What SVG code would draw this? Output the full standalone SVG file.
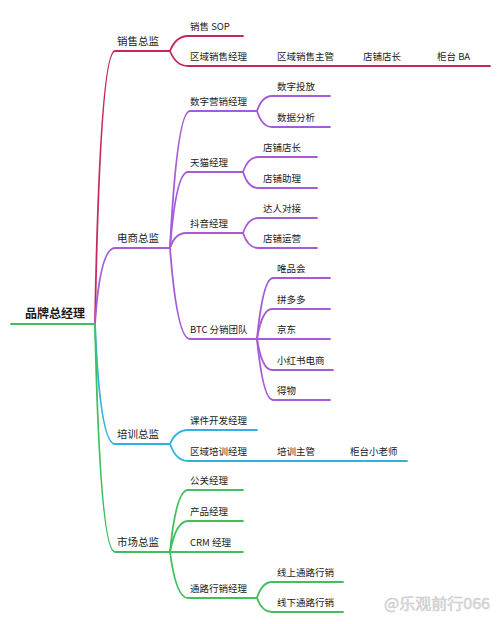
<svg xmlns="http://www.w3.org/2000/svg" width="500" height="624" viewBox="0 0 500 624">
<style>
.c{fill:none;stroke-width:1.8;stroke-linecap:round;stroke-linejoin:round}
.r{stroke:#c4285e}.p{stroke:#a65bd6}.b{stroke:#2fb2e0}.g{stroke:#3fbf5d}
text{font-family:"Noto Sans CJK SC","Noto Sans",sans-serif;fill:#1a1a1a}
.t0{font-size:12px;font-weight:bold}
.t1{font-size:10.5px}
.t2{font-size:9.5px}
.wm{font-size:15px;fill:#e2e2e2;stroke:#c8c8c8;stroke-width:0.5}
</style>
<rect width="500" height="624" fill="#fff"/>
<g id="connectors">
<path class="c g" d="M11,324 H95"/>
<path class="c r" d="M95,324 Q100,51 115,51 H170"/>
<path class="c p" d="M95,324 Q100,248 115,248 H170"/>
<path class="c b" d="M95,324 Q100,444 115,444 H170"/>
<path class="c g" d="M95,324 Q100,552 115,552 H170"/>
<path class="c r" d="M170,51 Q176,36 188,36 H243"/>
<path class="c r" d="M170,51 Q176,66 188,66 H490"/>
<path class="c p" d="M170,248 Q177,111 190,111 H257"/>
<path class="c p" d="M257,111 Q262,96 272,96 H330"/>
<path class="c p" d="M257,111 Q262,127 272,127 H330"/>
<path class="c p" d="M170,248 Q176,172 188,172 H243"/>
<path class="c p" d="M243,172 Q248,157 258,157 H317"/>
<path class="c p" d="M243,172 Q248,188 258,188 H317"/>
<path class="c p" d="M170,248 Q175,233 186,233 H243"/>
<path class="c p" d="M243,233 Q248,218 258,218 H317"/>
<path class="c p" d="M243,233 Q248,248 258,248 H317"/>
<path class="c p" d="M170,248 Q177,339 190,339 H257"/>
<path class="c p" d="M257,339 Q263,278 273,278 H330"/>
<path class="c p" d="M257,339 Q262,309 272,309 H330"/>
<path class="c p" d="M257,339 H330"/>
<path class="c p" d="M257,339 Q262,370 272,370 H333"/>
<path class="c p" d="M257,339 Q263,400 273,400 H330"/>
<path class="c b" d="M170,444 Q176,430 188,430 H257"/>
<path class="c b" d="M170,444 Q176,461 188,461 H407"/>
<path class="c g" d="M170,552 Q176,490 188,490 H243"/>
<path class="c g" d="M170,552 Q176,521 188,521 H243"/>
<path class="c g" d="M170,552 H243"/>
<path class="c g" d="M170,552 Q176,598 188,598 H257"/>
<path class="c g" d="M257,598 Q262,582 272,582 H343"/>
<path class="c g" d="M257,598 Q262,612 272,612 H343"/>
</g>
<g id="n-root"><text class="t0" x="25" y="318">品牌总经理</text></g>
<g id="n-sales"><text class="t1" x="117" y="44.5">销售总监</text></g>
<g id="n-ecom"><text class="t1" x="117" y="241.5">电商总监</text></g>
<g id="n-train"><text class="t1" x="117" y="437.5">培训总监</text></g>
<g id="n-market"><text class="t1" x="117" y="545.5">市场总监</text></g>
<g id="n-sop"><text class="t2" x="190" y="29.5">销售 SOP</text></g>
<g id="n-rsm"><text class="t2" x="190" y="59.5">区域销售经理</text></g>
<g id="n-rss"><text class="t2" x="277" y="59.5">区域销售主管</text></g>
<g id="n-sm1"><text class="t2" x="363" y="59.5">店铺店长</text></g>
<g id="n-ba"><text class="t2" x="437" y="59.5">柜台 BA</text></g>
<g id="n-dm"><text class="t2" x="190" y="104.5">数字营销经理</text></g>
<g id="n-dt"><text class="t2" x="277" y="89.5">数字投放</text></g>
<g id="n-da"><text class="t2" x="277" y="120.5">数据分析</text></g>
<g id="n-tm"><text class="t2" x="190" y="165.5">天猫经理</text></g>
<g id="n-sm2"><text class="t2" x="263" y="150.5">店铺店长</text></g>
<g id="n-sa"><text class="t2" x="263" y="181.5">店铺助理</text></g>
<g id="n-dy"><text class="t2" x="190" y="226.5">抖音经理</text></g>
<g id="n-kol"><text class="t2" x="263" y="211.5">达人对接</text></g>
<g id="n-so"><text class="t2" x="263" y="241.5">店铺运营</text></g>
<g id="n-btc"><text class="t2" x="190" y="332.5">BTC 分销团队</text></g>
<g id="n-vip"><text class="t2" x="277" y="271.5">唯品会</text></g>
<g id="n-pdd"><text class="t2" x="277" y="302.5">拼多多</text></g>
<g id="n-jd"><text class="t2" x="277" y="332.5">京东</text></g>
<g id="n-xhs"><text class="t2" x="277" y="363.5">小红书电商</text></g>
<g id="n-dw"><text class="t2" x="277" y="393.5">得物</text></g>
<g id="n-kj"><text class="t2" x="190" y="423.5">课件开发经理</text></g>
<g id="n-rtm"><text class="t2" x="190" y="454.5">区域培训经理</text></g>
<g id="n-ts"><text class="t2" x="277" y="454.5">培训主管</text></g>
<g id="n-ct"><text class="t2" x="350" y="454.5">柜台小老师</text></g>
<g id="n-pr"><text class="t2" x="190" y="483.5">公关经理</text></g>
<g id="n-pm"><text class="t2" x="190" y="514.5">产品经理</text></g>
<g id="n-crm"><text class="t2" x="190" y="545.5">CRM 经理</text></g>
<g id="n-ch"><text class="t2" x="190" y="591.5">通路行销经理</text></g>
<g id="n-on"><text class="t2" x="277" y="575.5">线上通路行销</text></g>
<g id="n-off"><text class="t2" x="277" y="605.5">线下通路行销</text></g>
<text class="wm" x="384" y="609" textLength="106" lengthAdjust="spacingAndGlyphs">@乐观前行066</text>
</svg>
